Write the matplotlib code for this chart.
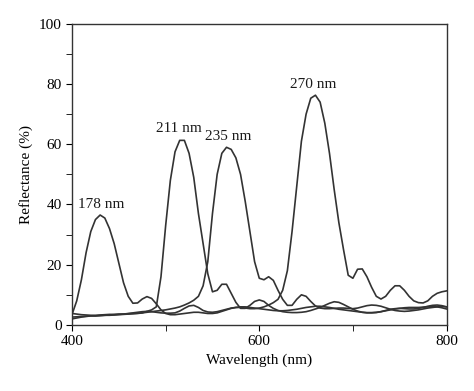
import numpy as np
import matplotlib.pyplot as plt

plt.rcParams['font.family'] = ['Liberation Serif', 'DejaVu Serif']

# wavelength grid (nm)
wavelength = np.arange(400, 801, 5)

# reflectance (%), one list per sample
r_178 = [3.5, 8, 15, 24, 31, 35, 36.5, 35.5, 32, 27,
         20.5, 14, 9.5, 7.2, 7.3, 8.6, 9.4, 8.8, 7, 5,
         3.8, 3.4, 3.4, 3.6, 3.8, 4, 4.2, 4.2, 4, 3.8,
         3.8, 4, 4.5, 5, 5.5, 5.8, 6, 6, 5.8, 5.6,
         5.4, 5.2, 5, 4.8, 4.7, 4.7, 4.8, 5, 5.2, 5.5,
         5.8, 6, 6.2, 6.2, 6, 5.8, 5.5, 5.2, 5, 4.8,
         4.6, 4.4, 4.2, 4.1, 4.1, 4.2, 4.4, 4.7, 5, 5.3,
         5.5, 5.7, 5.8, 5.8, 5.8, 5.9, 6, 6.1, 6, 5.7,
         5.3]
r_211 = [2.6, 2.7, 2.8, 2.9, 3, 3, 3.1, 3.2, 3.2, 3.3,
         3.4, 3.5, 3.6, 3.7, 3.8, 4, 4.5, 5, 6, 16,
         33, 48, 57.5, 61.3, 61.3, 57, 49, 37, 27, 17,
         11, 11.5, 13.5, 13.5, 10.5, 7.5, 5.5, 5.5, 6.5, 7.8,
         8.3, 7.8, 6.5, 5.5, 4.8, 4.4, 4.2, 4.1, 4.1, 4.2,
         4.4, 4.8, 5.3, 5.8, 6.5, 7.2, 7.7, 7.5, 6.8, 6,
         5.2, 4.6, 4.2, 4, 4, 4.1, 4.4, 4.8, 5.2, 5.4,
         5.5, 5.4, 5.3, 5.3, 5.5, 5.8, 6.2, 6.5, 6.6, 6.4,
         6]
r_235 = [3.8, 3.6, 3.4, 3.3, 3.2, 3.2, 3.3, 3.4, 3.5, 3.5,
         3.6, 3.6, 3.7, 3.8, 3.9, 4, 4.2, 4.4, 4.6, 4.8,
         5, 5.3, 5.6, 6, 6.6, 7.3, 8.2, 9.5, 13, 21,
         37, 50, 57, 59, 58.3, 55.5, 50, 41, 31, 21,
         15.5, 15, 16, 14.8, 11.5, 8.5, 6.5, 6.5, 8.5, 10,
         9.5, 7.8, 6.3, 5.6, 5.4, 5.4, 5.5, 5.6, 5.6, 5.5,
         5.4, 5.6, 6, 6.4, 6.6, 6.5, 6.2, 5.7, 5.2, 4.8,
         4.6, 4.5, 4.6, 4.8, 5, 5.3, 5.6, 5.8, 6, 6.1,
         6]
r_270 = [2, 2.3, 2.6, 2.8, 3, 3, 3.1, 3.2, 3.3, 3.4,
         3.5, 3.6, 3.8, 4, 4.2, 4.4, 4.5, 4.4, 4.2, 4,
         3.9, 3.9, 4, 4.6, 5.5, 6.3, 6.5, 5.8, 4.8, 4.3,
         4.2, 4.4, 4.8, 5.2, 5.6, 5.8, 5.8, 5.6, 5.4, 5.4,
         5.6, 6, 6.6, 7.4, 8.5, 11.5, 18, 31, 46, 61,
         70, 75.3, 76.3, 74, 67, 57, 45, 34, 25, 16.5,
         15.5, 18.5, 18.6, 16, 12.5, 9.5, 8.6, 9.5, 11.5, 13,
         13, 11.5, 9.5, 8, 7.4, 7.3, 8, 9.5, 10.5, 11,
         11.3]

series = [r_178, r_211, r_235, r_270]
labels = ['178 nm', '211 nm', '235 nm', '270 nm']
label_pos = [(431, 40), (514, 65.3), (567, 62.5), (658, 80)]

fig = plt.figure(figsize=(4.74, 3.91), dpi=100)
ax = fig.add_axes([0.152, 0.169, 0.79, 0.77])

for r in series:
    ax.plot(wavelength, r, color='#333333', lw=1.2)

for text, (x, y) in zip(labels, label_pos):
    ax.text(x, y, text, ha='center', va='center', fontsize=11, color='#1a1a1a')

ax.set_xlim(400, 800)
ax.set_ylim(0, 100)
ax.set_xticks([400, 600, 800])
ax.set_xticks([500, 700], minor=True)
ax.set_yticks(range(0, 101, 20))
ax.set_yticks(range(10, 100, 20), minor=True)
ax.tick_params(which='both', direction='out', labelsize=11, top=False, right=False)
ax.tick_params(which='major', length=4)
ax.tick_params(which='minor', length=4)
for s in ax.spines.values():
    s.set_color('#333333')
    s.set_linewidth(1.0)

ax.set_xlabel('Wavelength (nm)', fontsize=11)
ax.set_ylabel('Reflectance (%)', fontsize=11)

plt.savefig('out.png', dpi=100)
